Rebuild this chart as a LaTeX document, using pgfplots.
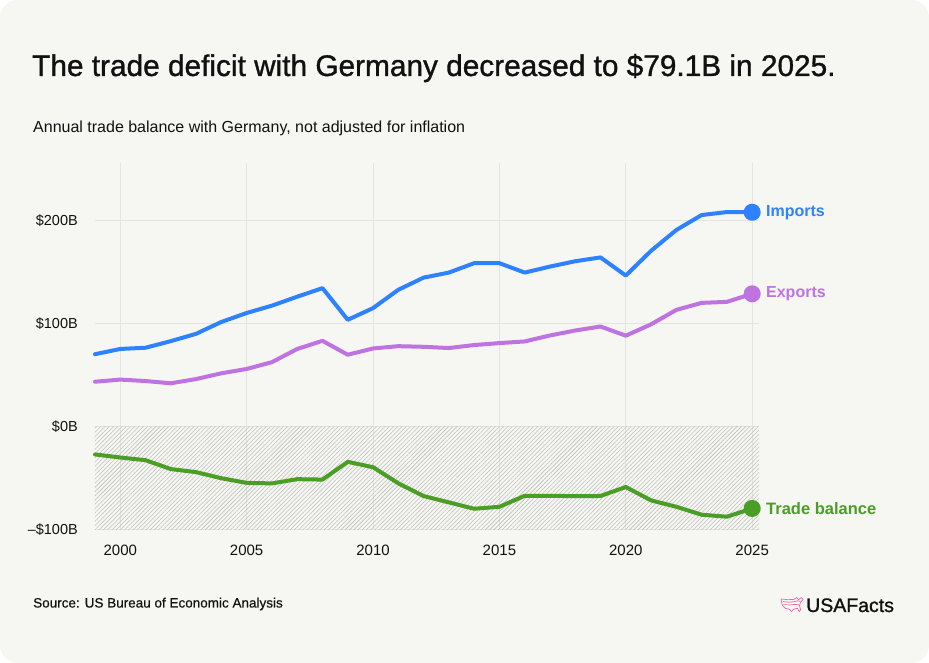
\documentclass[border=0pt]{standalone}
\usepackage{fontspec}
\setmainfont{Liberation Sans}
\newfontfamily\titlefont[FakeBold=1.1]{Liberation Sans}
\newfontfamily\srcfont[FakeBold=0.5]{Liberation Sans}
\usepackage{pgfplots}
\usepackage{pgfplotstable}
\pgfplotsset{compat=1.18}
\usetikzlibrary{patterns.meta}

\definecolor{card}{RGB}{246,246,242}
\definecolor{gridc}{RGB}{228,228,224}
\definecolor{hatchc}{RGB}{190,190,186}
\definecolor{impc}{RGB}{46,130,255}
\definecolor{expc}{RGB}{190,115,225}
\definecolor{balc}{RGB}{74,158,37}
\definecolor{inkc}{RGB}{17,17,17}
\definecolor{logoc}{RGB}{240,100,170}

% Annual trade with Germany, billions of dollars
\pgfplotstableread{
year imports exports balance
1999  70.5  43.8 -26.7
2000  75.6  45.9 -29.7
2001  76.8  44.5 -32.3
2002  83.2  42.3 -40.9
2003  90.3  46.4 -43.9
2004 101.8  52.0 -49.8
2005 110.5  56.2 -54.3
2006 117.6  62.8 -54.8
2007 126.3  75.6 -50.7
2008 134.6  83.5 -51.1
2009 103.9  70.0 -33.9
2010 115.2  76.1 -39.1
2011 133.0  78.3 -54.7
2012 144.8  77.7 -67.1
2013 149.7  76.5 -73.2
2014 158.8  79.4 -79.4
2015 158.8  81.3 -77.5
2016 149.7  82.9 -66.8
2017 155.5  88.7 -66.8
2018 160.7  93.5 -67.2
2019 164.4  97.4 -67.0
2020 146.8  88.5 -58.3
2021 170.8  99.5 -71.3
2022 191.0 113.5 -77.5
2023 205.5 120.3 -85.2
2024 208.4 121.3 -87.1
2025 208.2 129.1 -79.1
}\tradedata

\begin{document}
\begin{tikzpicture}[x=1pt,y=1pt]
\useasboundingbox (0,0) rectangle (929,663);
\fill[white] (0,0) rectangle (929,663);
\fill[card, rounded corners=18pt] (0,0) rectangle (929,663);

% headings
\node[anchor=base west, inner sep=0, text=inkc, font=\titlefont\fontsize{29.8}{34}\selectfont]
  at (32,587) {The trade deficit with Germany decreased to \$79.1B in 2025.};
\node[anchor=base west, inner sep=0, text=inkc, font=\fontsize{16}{19}\selectfont]
  at (33,530.5) {Annual trade balance with Germany, not adjusted for inflation};

\begin{axis}[
  at={(95pt,133pt)}, anchor=south west,
  scale only axis, width=664pt, height=367pt,
  xmin=1999, xmax=2025.27, ymin=-100, ymax=256,
  axis line style={draw=none},
  major tick length=0pt,
  xtick={2000,2005,2010,2015,2020,2025},
  xticklabels={2000,2005,2010,2015,2020,2025},
  ytick={-100,0,100,200},
  yticklabels={\textendash\$100B,\$0B,\$100B,\$200B},
  grid=major,
  major grid style={gridc, line width=1pt},
  xticklabel style={font=\fontsize{15}{18}\selectfont, text=inkc, inner sep=0pt, anchor=north, yshift=-15pt},
  yticklabel style={font=\fontsize{14.5}{17}\selectfont, text=inkc, inner sep=0pt, anchor=east, xshift=-17pt},
  clip=false,
  every axis plot/.append style={line width=4pt, line join=round, line cap=round},
]
% deficit band
\addplot[draw=none, pattern={Lines[angle=45, distance=3pt, line width=0.55pt]}, pattern color=hatchc, line width=0pt]
  coordinates {(1999,-100) (2025.27,-100) (2025.27,0) (1999,0)} -- cycle;

\addplot[impc, mark=*, mark indices={27}, mark size=6.5pt, mark options={fill=impc, draw=none}]
  table[x=year, y=imports] {\tradedata}
  node[pos=1, anchor=west, xshift=11pt, inner sep=1pt, font=\bfseries\fontsize{16}{19}\selectfont, text=impc] {Imports};
\addplot[expc, mark=*, mark indices={27}, mark size=6.5pt, mark options={fill=expc, draw=none}]
  table[x=year, y=exports] {\tradedata}
  node[pos=1, anchor=west, xshift=11pt, inner sep=1pt, font=\bfseries\fontsize{16}{19}\selectfont, text=expc] {Exports};
\addplot[balc, mark=*, mark indices={27}, mark size=6.5pt, mark options={fill=balc, draw=none}]
  table[x=year, y=balance] {\tradedata}
  node[pos=1, anchor=west, xshift=11pt, inner sep=1pt, font=\bfseries\fontsize{16.5}{19}\selectfont, text=balc] {Trade balance};
\end{axis}

% footer
\node[anchor=base west, inner sep=0, text=inkc, font=\srcfont\fontsize{13.5}{16}\selectfont]
  at (33,55.5) {Source: US Bureau of Economic Analysis};
\node[anchor=base west, inner sep=0, text=inkc, font=\titlefont\fontsize{19.5}{22}\selectfont]
  at (806,51) {USAFacts};
% map mark
\begin{scope}[shift={(781,51)}, logoc, line width=0.7pt, line join=round]
  \draw (0,13) -- (7,12.3) -- (13,12.6) -- (15.5,14.5) -- (17.5,12.3) -- (20.5,14.5) -- (22,12.6)
        -- (19.5,9.5) -- (18.5,6.5) -- (19.6,2.2) -- (18.2,0.2) -- (16.5,3.6) -- (12.5,2.8)
        -- (10.5,0.3) -- (8.3,2.8) -- (4.5,3.6) -- (1.3,6.8) -- cycle;
  \draw (1.8,10.5) -- (7.5,9.8) -- (13,10.3) -- (16.5,11.2) -- (19.5,10.6);
  \draw (2.5,7.4) -- (8.5,7.0) -- (14,7.6) -- (17.8,7.2);
\end{scope}
\end{tikzpicture}
\end{document}
